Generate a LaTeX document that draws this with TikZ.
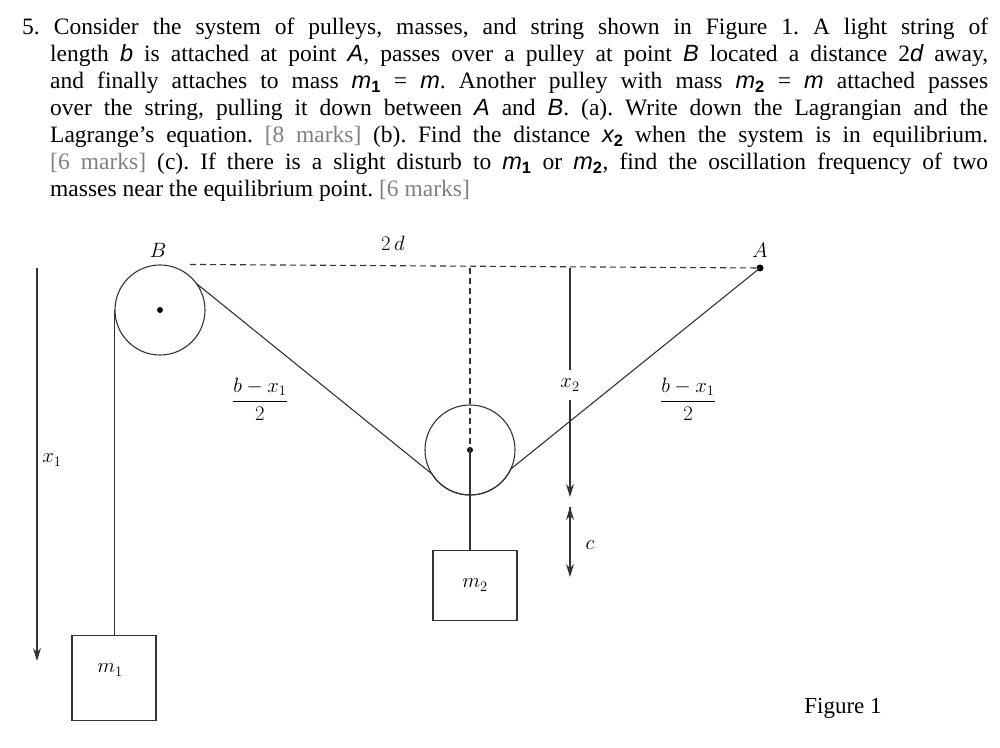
\documentclass[tikz,border=0pt]{standalone}
\usepackage{amsmath}
\usepackage{fontspec}
\setmainfont{Liberation Serif}
\newfontfamily\sansf{Liberation Sans}
\usetikzlibrary{arrows.meta,calc}
\newcommand\vm[2]{{\sansf\itshape #1}\textsubscript{\sansf\bfseries #2}}
\newcommand\vv[1]{{\sansf\itshape #1}}
\newcommand\mk[1]{\textcolor{gray}{[#1 marks]}}
\newcommand\jl[1]{\hbox to 938pt{#1}}
\frenchspacing
\begin{document}
\begin{tikzpicture}[x=1pt,y=1pt,
  txt/.style={anchor=base west,inner sep=0pt,font=\fontsize{23.5}{27}\selectfont},
  str/.style={line width=1.1pt,black!80},
  dsh/.style={line width=1.1pt,black!80,dash pattern=on 6pt off 4pt},
  lab/.style={font=\fontsize{20}{24}\selectfont,inner sep=1pt},
  tip/.style={-{Stealth[length=13pt,width=8pt]}}]
\useasboundingbox (0,0) rectangle (1000,747);
% text
\node[txt] (l1) at (22,712) {\hbox to 966pt{5. Consider the system of pulleys, masses, and string shown in Figure 1. A light string of}};
\node[txt] (l2) at (50,685) {\jl{length \vv{b} is attached at point \vv{A}, passes over a pulley at point \vv{B} located a distance 2\vv{d} away,}};
\node[txt] (l3) at (50,658) {\jl{and finally attaches to mass \vm{m}{1} = \vv{m}. Another pulley with mass \vm{m}{2} = \vv{m} attached passes}};
\node[txt] (l4) at (50,631) {\jl{over the string, pulling it down between \vv{A} and \vv{B}. (a). Write down the Lagrangian and the}};
\node[txt] (l5) at (50,604) {\jl{Lagrange's equation. \mk{8} (b). Find the distance \vm{x}{2} when the system is in equilibrium.}};
\node[txt] (l6) at (50,577) {\jl{\mk{6} (c). If there is a slight disturb to \vm{m}{1} or \vm{m}{2}, find the oscillation frequency of two}};
\node[txt] (l7) at (50,550) {masses near the equilibrium point. \mk{6}};
% pulleys
\node[circle,draw,str,minimum size=90pt,inner sep=0pt] (pB) at (160,437) {};
\fill (pB.center) circle (3pt);
\node[circle,draw,str,minimum size=90pt,inner sep=0pt] (p2) at (470,297) {};
\fill (p2.center) circle (3pt);
\coordinate (A) at (760,479);
\fill (A) circle (3.5pt);
% masses
\node[draw,str,minimum width=84pt,minimum height=85pt,anchor=north] (m1) at (114,112) {};
\node[lab] at (110,77) {$m_1$};
\node[draw,str,minimum width=84pt,minimum height=70pt,anchor=north] (m2) at (475,197) {};
\node[lab] at (475,162) {$m_2$};
% strings
\draw[str] (m1.north -| pB.west) -- (pB.west);
\draw[str] ($(pB.center)+(36:45)$) -- ($(p2.center)+(212:45)$) arc (212:335:45) -- (A);
\draw[str] (p2.center) -- (m2.north -| p2.center);
% dashed
\draw[dsh] ($(pB.north)+(30,0)$) -- (A);
\draw[dsh] (470,479) -- (p2.center);
% x2 and c
\draw[str] (570,479) -- (570,377);
\node[lab] (x2) at (570,362) {$x_2$};
\draw[str,tip] (570,347) -- (570,250);
\draw[str,tip] (570,190) -- (570,240);
\draw[str,tip] (570,240) -- (570,170);
\node[lab] at (590,202) {$c$};
% x1
\draw[str,tip] (37,479) -- (37,86);
\node[lab] at (52,287) {$x_1$};
% labels
\node[lab] at (158,497) {$B$};
\node[lab] at (393,504) {$2\,d$};
\node[lab] at (760,497) {$A$};
\node[lab] at (260,348) {$\dfrac{b-x_1}{2}$};
\node[lab] at (688,348) {$\dfrac{b-x_1}{2}$};
\node[font=\fontsize{23}{27}\selectfont] at (843,39) {Figure 1};
\end{tikzpicture}
\end{document}
